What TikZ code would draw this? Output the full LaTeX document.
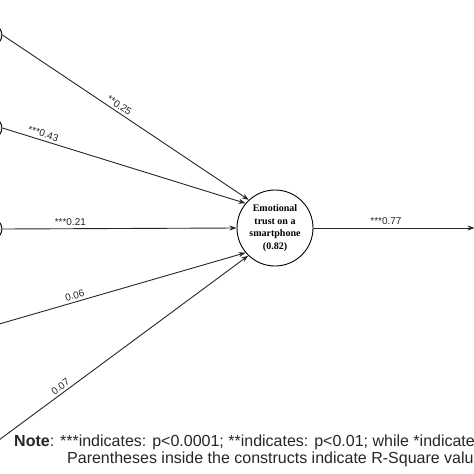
\documentclass[tikz,border=0pt]{standalone}
\usepackage{fontspec}
\setmainfont{Liberation Sans}
\newfontfamily\circfont{Liberation Serif}
\usetikzlibrary{arrows.meta, positioning, shapes.geometric}

\begin{document}
\begin{tikzpicture}[x=1pt, y=-1pt,
    link/.style={line width=0.9pt, draw=black!85, -{Stealth[length=7pt, width=5pt]}},
    coef/.style={font=\fontsize{10}{12}\selectfont, text=black!85, sloped, above, inner sep=2.5pt},
    construct/.style={ellipse, draw, line width=0.9pt, fill=black!10, minimum width=60pt, minimum height=34pt},
    latent/.style={circle, draw, line width=0.9pt, minimum size=76pt, inner sep=0pt, align=center,
        font=\circfont\bfseries\fontsize{10}{12.5}\selectfont}]
    \useasboundingbox (0,0) rectangle (474,474);
    \clip (0,0) rectangle (474,474);

    % constructs (mostly outside the frame)
    \node[construct] (c1) at (-28, 35) {};
    \node[construct] (c2) at (-28, 128) {};
    \node[construct] (c3) at (-28, 229) {};
    \node[construct] (c4) at (-45, 328) {};
    \node[construct] (c5) at (-45, 450) {};
    \node[latent] (trust) at (275, 228) {Emotional\\trust on a\\smartphone\\(0.82)};
    \node[latent] (outcome) at (513, 228) {};

    % paths
    \draw[link] (c1.east) -- node[coef, pos=0.46] {**0.25} (trust.133);
    \draw[link] (c2.east) -- node[coef, pos=0.16] {***0.43} (trust.140);
    \draw[link] (c3.east) -- node[coef, pos=0.29] {***0.21} (trust.west);
    \draw[link] (c4.east) -- node[coef, pos=0.35] {0.06} (trust.220);
    \draw[link] (c5.east) -- node[coef, pos=0.30] {0.07} (trust.226);
    \draw[link] (trust.east) -- node[coef, pos=0.45] {***0.77} (outcome.west);

    % note
    \node[anchor=base west, inner sep=0pt, font=\fontsize{16}{17}\selectfont, text=black!85] (note1) at (14, 446)
        {\textbf{Note}: ***indicates: p<0.0001; **indicates: p<0.01; while *indicates: p<0.05};
    \node[anchor=base west, inner sep=0pt, font=\fontsize{16}{17}\selectfont, text=black!85] (note2) at (67, 463)
        {Parentheses inside the constructs indicate R-Square values};
\end{tikzpicture}
\end{document}
